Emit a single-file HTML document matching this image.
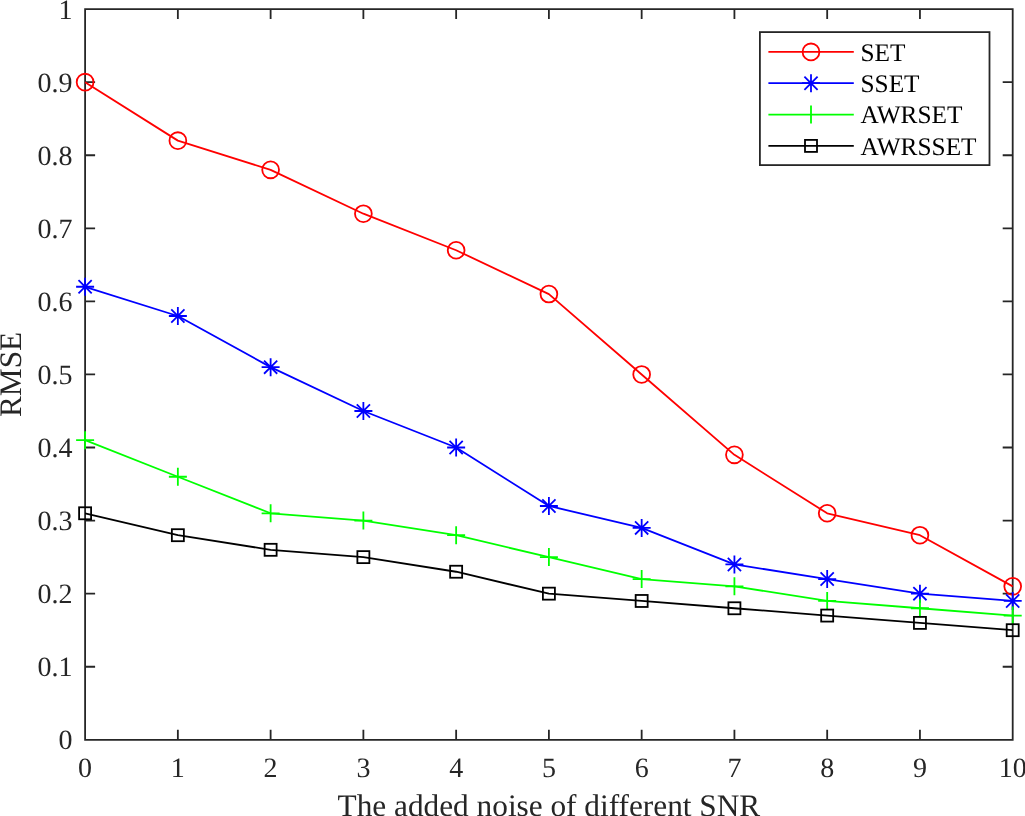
<!DOCTYPE html>
<html><head><meta charset="utf-8"><style>html,body{margin:0;padding:0;background:#fff;overflow:hidden}svg{display:block}text{text-rendering:geometricPrecision}</style></head>
<body><svg width="1025" height="816" viewBox="0 0 1025 816"><rect width="1025" height="816" fill="#fff"/>
<path d="M85.10 9.10H1012.70V739.80H85.10ZM85.10 739.80V729.80M85.10 9.10V19.10M177.86 739.80V729.80M177.86 9.10V19.10M270.62 739.80V729.80M270.62 9.10V19.10M363.38 739.80V729.80M363.38 9.10V19.10M456.14 739.80V729.80M456.14 9.10V19.10M548.90 739.80V729.80M548.90 9.10V19.10M641.66 739.80V729.80M641.66 9.10V19.10M734.42 739.80V729.80M734.42 9.10V19.10M827.18 739.80V729.80M827.18 9.10V19.10M919.94 739.80V729.80M919.94 9.10V19.10M1012.70 739.80V729.80M1012.70 9.10V19.10M85.10 739.80H95.10M1012.70 739.80H1002.70M85.10 666.73H95.10M1012.70 666.73H1002.70M85.10 593.66H95.10M1012.70 593.66H1002.70M85.10 520.59H95.10M1012.70 520.59H1002.70M85.10 447.52H95.10M1012.70 447.52H1002.70M85.10 374.45H95.10M1012.70 374.45H1002.70M85.10 301.38H95.10M1012.70 301.38H1002.70M85.10 228.31H95.10M1012.70 228.31H1002.70M85.10 155.24H95.10M1012.70 155.24H1002.70M85.10 82.17H95.10M1012.70 82.17H1002.70M85.10 9.10H95.10M1012.70 9.10H1002.70" fill="none" stroke="#262626" stroke-width="1.8" stroke-linejoin="miter"/>
<polyline points="85.10,82.17 177.86,140.63 270.62,169.85 363.38,213.70 456.14,250.23 548.90,294.07 641.66,374.45 734.42,454.83 827.18,513.28 919.94,535.20 1012.70,586.35" fill="none" stroke="#ff0000" stroke-width="1.8" stroke-linejoin="round"/>
<circle cx="85.10" cy="82.17" r="8.4" fill="none" stroke="#ff0000" stroke-width="1.8"/>
<circle cx="177.86" cy="140.63" r="8.4" fill="none" stroke="#ff0000" stroke-width="1.8"/>
<circle cx="270.62" cy="169.85" r="8.4" fill="none" stroke="#ff0000" stroke-width="1.8"/>
<circle cx="363.38" cy="213.70" r="8.4" fill="none" stroke="#ff0000" stroke-width="1.8"/>
<circle cx="456.14" cy="250.23" r="8.4" fill="none" stroke="#ff0000" stroke-width="1.8"/>
<circle cx="548.90" cy="294.07" r="8.4" fill="none" stroke="#ff0000" stroke-width="1.8"/>
<circle cx="641.66" cy="374.45" r="8.4" fill="none" stroke="#ff0000" stroke-width="1.8"/>
<circle cx="734.42" cy="454.83" r="8.4" fill="none" stroke="#ff0000" stroke-width="1.8"/>
<circle cx="827.18" cy="513.28" r="8.4" fill="none" stroke="#ff0000" stroke-width="1.8"/>
<circle cx="919.94" cy="535.20" r="8.4" fill="none" stroke="#ff0000" stroke-width="1.8"/>
<circle cx="1012.70" cy="586.35" r="8.4" fill="none" stroke="#ff0000" stroke-width="1.8"/>
<polyline points="85.10,286.77 177.86,315.99 270.62,367.14 363.38,410.98 456.14,447.52 548.90,505.98 641.66,527.90 734.42,564.43 827.18,579.05 919.94,593.66 1012.70,600.97" fill="none" stroke="#0000ff" stroke-width="1.8" stroke-linejoin="round"/>
<path d="M76.10 286.77H94.10M85.10 277.77V295.77M78.50 280.17L91.70 293.37M78.50 293.37L91.70 280.17" stroke="#0000ff" stroke-width="1.8" fill="none"/>
<path d="M168.86 315.99H186.86M177.86 306.99V324.99M171.26 309.39L184.46 322.59M171.26 322.59L184.46 309.39" stroke="#0000ff" stroke-width="1.8" fill="none"/>
<path d="M261.62 367.14H279.62M270.62 358.14V376.14M264.02 360.54L277.22 373.74M264.02 373.74L277.22 360.54" stroke="#0000ff" stroke-width="1.8" fill="none"/>
<path d="M354.38 410.98H372.38M363.38 401.98V419.98M356.78 404.38L369.98 417.58M356.78 417.58L369.98 404.38" stroke="#0000ff" stroke-width="1.8" fill="none"/>
<path d="M447.14 447.52H465.14M456.14 438.52V456.52M449.54 440.92L462.74 454.12M449.54 454.12L462.74 440.92" stroke="#0000ff" stroke-width="1.8" fill="none"/>
<path d="M539.90 505.98H557.90M548.90 496.98V514.98M542.30 499.38L555.50 512.58M542.30 512.58L555.50 499.38" stroke="#0000ff" stroke-width="1.8" fill="none"/>
<path d="M632.66 527.90H650.66M641.66 518.90V536.90M635.06 521.30L648.26 534.50M635.06 534.50L648.26 521.30" stroke="#0000ff" stroke-width="1.8" fill="none"/>
<path d="M725.42 564.43H743.42M734.42 555.43V573.43M727.82 557.83L741.02 571.03M727.82 571.03L741.02 557.83" stroke="#0000ff" stroke-width="1.8" fill="none"/>
<path d="M818.18 579.05H836.18M827.18 570.05V588.05M820.58 572.45L833.78 585.65M820.58 585.65L833.78 572.45" stroke="#0000ff" stroke-width="1.8" fill="none"/>
<path d="M910.94 593.66H928.94M919.94 584.66V602.66M913.34 587.06L926.54 600.26M913.34 600.26L926.54 587.06" stroke="#0000ff" stroke-width="1.8" fill="none"/>
<path d="M1003.70 600.97H1021.70M1012.70 591.97V609.97M1006.10 594.37L1019.30 607.57M1006.10 607.57L1019.30 594.37" stroke="#0000ff" stroke-width="1.8" fill="none"/>
<polyline points="85.10,440.21 177.86,476.75 270.62,513.28 363.38,520.59 456.14,535.20 548.90,557.12 641.66,579.05 734.42,586.35 827.18,600.97 919.94,608.27 1012.70,615.58" fill="none" stroke="#00ff00" stroke-width="1.8" stroke-linejoin="round"/>
<path d="M76.10 440.21H94.10M85.10 431.21V449.21" stroke="#00ff00" stroke-width="1.8" fill="none"/>
<path d="M168.86 476.75H186.86M177.86 467.75V485.75" stroke="#00ff00" stroke-width="1.8" fill="none"/>
<path d="M261.62 513.28H279.62M270.62 504.28V522.28" stroke="#00ff00" stroke-width="1.8" fill="none"/>
<path d="M354.38 520.59H372.38M363.38 511.59V529.59" stroke="#00ff00" stroke-width="1.8" fill="none"/>
<path d="M447.14 535.20H465.14M456.14 526.20V544.20" stroke="#00ff00" stroke-width="1.8" fill="none"/>
<path d="M539.90 557.12H557.90M548.90 548.12V566.12" stroke="#00ff00" stroke-width="1.8" fill="none"/>
<path d="M632.66 579.05H650.66M641.66 570.05V588.05" stroke="#00ff00" stroke-width="1.8" fill="none"/>
<path d="M725.42 586.35H743.42M734.42 577.35V595.35" stroke="#00ff00" stroke-width="1.8" fill="none"/>
<path d="M818.18 600.97H836.18M827.18 591.97V609.97" stroke="#00ff00" stroke-width="1.8" fill="none"/>
<path d="M910.94 608.27H928.94M919.94 599.27V617.27" stroke="#00ff00" stroke-width="1.8" fill="none"/>
<path d="M1003.70 615.58H1021.70M1012.70 606.58V624.58" stroke="#00ff00" stroke-width="1.8" fill="none"/>
<polyline points="85.10,513.28 177.86,535.20 270.62,549.82 363.38,557.12 456.14,571.74 548.90,593.66 641.66,600.97 734.42,608.27 827.18,615.58 919.94,622.89 1012.70,630.19" fill="none" stroke="#000000" stroke-width="1.8" stroke-linejoin="round"/>
<rect x="79.10" y="507.28" width="12.00" height="12.00" fill="none" stroke="#000000" stroke-width="1.8"/>
<rect x="171.86" y="529.20" width="12.00" height="12.00" fill="none" stroke="#000000" stroke-width="1.8"/>
<rect x="264.62" y="543.82" width="12.00" height="12.00" fill="none" stroke="#000000" stroke-width="1.8"/>
<rect x="357.38" y="551.12" width="12.00" height="12.00" fill="none" stroke="#000000" stroke-width="1.8"/>
<rect x="450.14" y="565.74" width="12.00" height="12.00" fill="none" stroke="#000000" stroke-width="1.8"/>
<rect x="542.90" y="587.66" width="12.00" height="12.00" fill="none" stroke="#000000" stroke-width="1.8"/>
<rect x="635.66" y="594.97" width="12.00" height="12.00" fill="none" stroke="#000000" stroke-width="1.8"/>
<rect x="728.42" y="602.27" width="12.00" height="12.00" fill="none" stroke="#000000" stroke-width="1.8"/>
<rect x="821.18" y="609.58" width="12.00" height="12.00" fill="none" stroke="#000000" stroke-width="1.8"/>
<rect x="913.94" y="616.89" width="12.00" height="12.00" fill="none" stroke="#000000" stroke-width="1.8"/>
<rect x="1006.70" y="624.19" width="12.00" height="12.00" fill="none" stroke="#000000" stroke-width="1.8"/>
<g font-family="Liberation Serif, Times New Roman, serif" font-size="28" fill="#262626"><text x="85.10" y="777.0" text-anchor="middle">0</text><text x="177.86" y="777.0" text-anchor="middle">1</text><text x="270.62" y="777.0" text-anchor="middle">2</text><text x="363.38" y="777.0" text-anchor="middle">3</text><text x="456.14" y="777.0" text-anchor="middle">4</text><text x="548.90" y="777.0" text-anchor="middle">5</text><text x="641.66" y="777.0" text-anchor="middle">6</text><text x="734.42" y="777.0" text-anchor="middle">7</text><text x="827.18" y="777.0" text-anchor="middle">8</text><text x="919.94" y="777.0" text-anchor="middle">9</text><text x="1012.70" y="777.0" text-anchor="middle">10</text><text x="72.6" y="749.30" text-anchor="end">0</text><text x="72.6" y="676.23" text-anchor="end">0.1</text><text x="72.6" y="603.16" text-anchor="end">0.2</text><text x="72.6" y="530.09" text-anchor="end">0.3</text><text x="72.6" y="457.02" text-anchor="end">0.4</text><text x="72.6" y="383.95" text-anchor="end">0.5</text><text x="72.6" y="310.88" text-anchor="end">0.6</text><text x="72.6" y="237.81" text-anchor="end">0.7</text><text x="72.6" y="164.74" text-anchor="end">0.8</text><text x="72.6" y="91.67" text-anchor="end">0.9</text><text x="72.6" y="18.60" text-anchor="end">1</text></g>
<text x="548.90" y="816" text-anchor="middle" font-family="Liberation Serif, Times New Roman, serif" font-size="31.3" fill="#262626">The added noise of different SNR</text>
<text transform="translate(20.5 374.45) rotate(-90)" text-anchor="middle" font-family="Liberation Serif, Times New Roman, serif" font-size="31.3" fill="#262626">RMSE</text>
<rect x="759.9" y="32.1" width="229.60" height="133.00" fill="#fff" stroke="#262626" stroke-width="1.8"/>
<path d="M768.4 51.9H853.8" stroke="#ff0000" stroke-width="1.8"/>
<circle cx="811.00" cy="51.90" r="8.4" fill="none" stroke="#ff0000" stroke-width="1.8"/>
<text x="860.5" y="60.50" font-family="Liberation Serif, Times New Roman, serif" font-size="25.3" fill="#000">SET</text>
<path d="M768.4 83.2H853.8" stroke="#0000ff" stroke-width="1.8"/>
<path d="M802.00 83.20H820.00M811.00 74.20V92.20M804.40 76.60L817.60 89.80M804.40 89.80L817.60 76.60" stroke="#0000ff" stroke-width="1.8" fill="none"/>
<text x="860.5" y="91.80" font-family="Liberation Serif, Times New Roman, serif" font-size="25.3" fill="#000">SSET</text>
<path d="M768.4 114.6H853.8" stroke="#00ff00" stroke-width="1.8"/>
<path d="M811 105.60V123.60" stroke="#00ff00" stroke-width="1.8"/>
<text x="860.5" y="123.20" font-family="Liberation Serif, Times New Roman, serif" font-size="25.3" fill="#000">AWRSET</text>
<path d="M768.4 145.9H853.8" stroke="#000000" stroke-width="1.8"/>
<rect x="805.00" y="139.90" width="12.00" height="12.00" fill="none" stroke="#000000" stroke-width="1.8"/>
<text x="860.5" y="154.50" font-family="Liberation Serif, Times New Roman, serif" font-size="25.3" fill="#000">AWRSSET</text></svg></body></html>
